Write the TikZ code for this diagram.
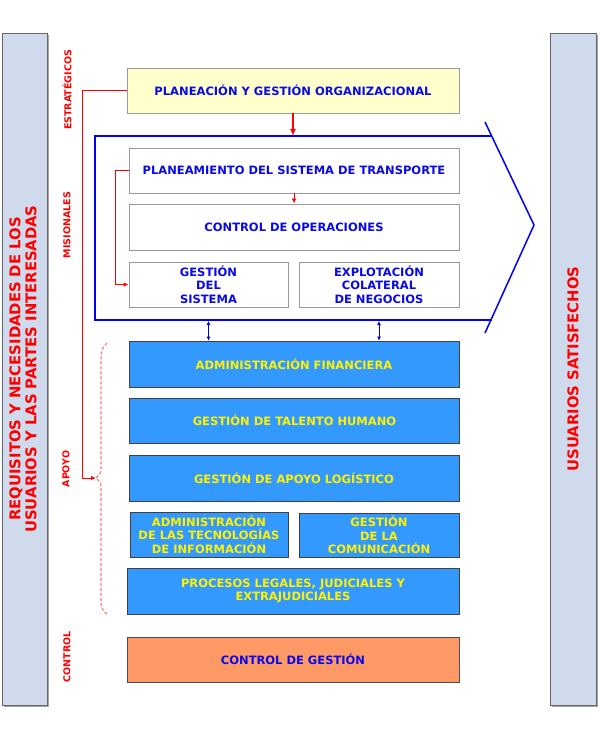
\documentclass[tikz,border=0pt]{standalone}
\usepackage{fontspec}
\setmainfont{DejaVu Sans}
\usetikzlibrary{arrows.meta,shadows}
\definecolor{panelblue}{RGB}{207,219,236}
\definecolor{boxblue}{RGB}{51,153,255}
\definecolor{paleyellow}{RGB}{255,255,204}
\definecolor{salmon}{RGB}{255,153,102}
\definecolor{textblue}{RGB}{10,10,230}
\definecolor{bracepink}{RGB}{255,120,120}

\begin{document}
\begin{tikzpicture}[x=1pt,y=-1pt,
                    panel/.style={draw=gray!80!black,fill=panelblue,inner sep=0pt,minimum width=45pt,minimum height=672pt,
                                  drop shadow={shadow xshift=2pt,shadow yshift=-2pt,fill=black,opacity=0.35}},
                    paneltext/.style={rotate=90,text=red,align=center,font=\fontsize{14.8}{16}\selectfont\bfseries},
                    sidelabel/.style={rotate=90,text=red,font=\fontsize{9.5}{10}\selectfont\bfseries},
                    procbox/.style={draw=gray!80,line width=0.8pt,fill=white,text=textblue,align=center,inner sep=0pt,
                                    minimum width=330pt,minimum height=45pt,font=\fontsize{11.5}{13.5}\selectfont\bfseries},
                    halfbox/.style={procbox,minimum width=159pt},
                    supbox/.style={procbox,draw=gray!50!black,fill=boxblue,text=yellow},
                    halfsupbox/.style={supbox,minimum width=159pt},
                    frameline/.style={draw=blue,line width=1.5pt},
                    redline/.style={draw=red,line width=1pt,-{Latex[length=5pt,width=4.5pt]}},
                    redthick/.style={draw=red,line width=2pt,-{Latex[length=7pt,width=6pt]}},
                    bluedbl/.style={draw=blue!80!black,line width=0.9pt,{Latex[length=4pt,width=4pt]}-{Latex[length=4pt,width=4pt]}},
                    bracedash/.style={draw=bracepink,line width=1.2pt,dash pattern=on 3pt off 2pt}
]
\useasboundingbox (0,0) rectangle (600,751);

% Draw the side panels
\node [panel] (reqpanel) at (24.5,369) {};
\node [paneltext] (reqtext) at ([xshift=-1.5pt]reqpanel.center) {REQUISITOS Y NECESIDADES DE LOS\\USUARIOS Y LAS PARTES INTERESADAS};
\node [panel,minimum width=46pt] (usrpanel) at (573,369) {};
\node [paneltext] (usrtext) at (usrpanel.center) {USUARIOS SATISFECHOS};

% Draw the side labels
\node [sidelabel] (estr) at (67,90) {ESTRATÉGICOS};
\node [sidelabel] (mis) at (67,225) {MISIONALES};
\node [sidelabel] (apo) at (66,469) {APOYO};
\node [sidelabel] (ctl) at (67,657) {CONTROL};

% Draw the strategic box
\node [procbox,fill=paleyellow,minimum width=332pt] (plan) at (293,90.5) {PLANEACIÓN Y GESTIÓN ORGANIZACIONAL};

% Draw the missional frame and boxes
\draw [frameline] (492,136) -- (95,136) -- (95,320) -- (492,320);
\draw [frameline] (485,122) -- (534,225) -- (485,333);
\coordinate (frametop) at (293,136);
\coordinate (framebot) at (0,321);
\node [procbox] (pst) at (294,170.5) {PLANEAMIENTO DEL SISTEMA DE TRANSPORTE};
\node [procbox,minimum height=46pt] (cop) at (294,227) {CONTROL DE OPERACIONES};
\node [halfbox] (gsis) at (208.5,284.5) {GESTIÓN\\DEL\\SISTEMA};
\node [halfbox,minimum width=160pt] (ecn) at (379,284.5) {EXPLOTACIÓN\\COLATERAL\\DE NEGOCIOS};

% Draw the support boxes
\node [supbox,minimum height=46pt] (afin) at (294,364) {ADMINISTRACIÓN FINANCIERA};
\node [supbox] (gth) at (294.5,420.5) {GESTIÓN DE TALENTO HUMANO};
\node [supbox,minimum height=46pt] (gal) at (294,478) {GESTIÓN DE APOYO LOGÍSTICO};
\node [halfsupbox,minimum width=158pt] (atic) at (209,534.5) {ADMINISTRACIÓN\\DE LAS TECNOLOGÍAS\\DE INFORMACIÓN};
\node [halfsupbox,minimum width=160pt,minimum height=44pt] (gcom) at (379,535) {GESTIÓN\\DE LA\\COMUNICACIÓN};
\node [supbox,minimum width=332pt,minimum height=46pt] (pleg) at (293,591) {PROCESOS LEGALES, JUDICIALES Y\\EXTRAJUDICIALES};

% Draw the control box
\node [procbox,draw=gray!60!black,fill=salmon,minimum width=332pt] (cges) at (293,659.5) {CONTROL DE GESTIÓN};

% Draw the support brace
\coordinate (bracetip) at (96,478);
\draw [bracedash] (107,343) .. controls (101,347) and (101,356) .. (101,366) -- (101,466)
      .. controls (101,473) .. (bracetip) .. controls (101,483) .. (101,490) -- (101,600)
      .. controls (101,608) and (103,611) .. (107,614);

% Draw the connectors
\draw [redthick] (plan.south) -- (frametop);
\draw [redline] (pst.south) -- (cop.north);
\draw [redline] (pst.west) -- ++(-13,0) |- (gsis.west);
\draw [redline] (plan.west) -- ++(-44,0) |- (bracetip);
\draw [bluedbl] (gsis.south |- framebot) -- (gsis.south |- afin.north);
\draw [bluedbl] (ecn.south |- framebot) -- (ecn.south |- afin.north);

\end{tikzpicture}
\end{document}
